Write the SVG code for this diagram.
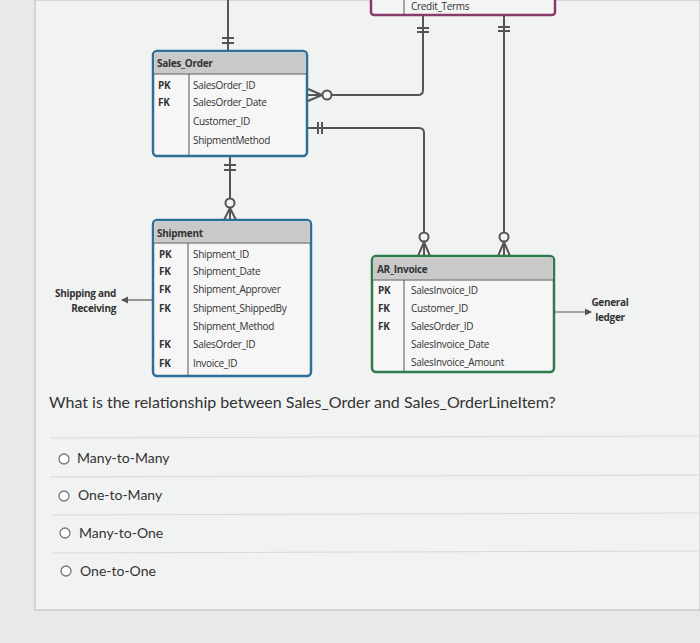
<svg xmlns="http://www.w3.org/2000/svg" width="700" height="643" viewBox="0 0 700 643">
<style>
.ln{stroke:#555;stroke-width:2;fill:none}
.t{font-family:"Open Sans","Liberation Sans",sans-serif;font-size:10px;fill:#333;letter-spacing:-0.3px}
.h{font-family:"Open Sans","Liberation Sans",sans-serif;font-size:10px;font-weight:bold;fill:#333;letter-spacing:-0.3px}
.q{font-family:Lato,"Liberation Sans",sans-serif;font-size:16px;fill:#333}
.o{font-family:Lato,"Liberation Sans",sans-serif;font-size:14px;fill:#333}
.sep{stroke:#d8d8d8;stroke-width:1}
.rad{fill:#fff;stroke:#777;stroke-width:1.3}
</style>
<defs><marker id="ar" markerWidth="6" markerHeight="6" refX="5" refY="3" orient="auto"><path d="M0,0 L6,3 L0,6 z" fill="#555"/></marker></defs>
<rect width="700" height="643" fill="#e8e9eb"/>
<rect x="35" y="0" width="665" height="610" fill="#f1f2f2" stroke="#bbb"/>
<g id="connectors">
<path class="ln" d="M228,0 V51 M222,38 H234 M222,43 H234"/>
<path class="ln" d="M423,15 V90 Q423,95 418,95 H331 M417,28 H429 M417,32 H429"/>
<circle cx="327" cy="95" r="4.5" fill="#f4f4f4" stroke="#555" stroke-width="2"/>
<path class="ln" d="M322,95 L308,89 M322,95 L308,101 M322,95 H308"/>
<path class="ln" d="M307,128 H419 Q424,128 424,133 V256 M318,122 V134 M322,122 V134"/>
<circle cx="424" cy="237" r="4.5" fill="#f4f4f4" stroke="#555" stroke-width="2"/>
<path class="ln" d="M424,242 L418,256 M424,242 L430,256"/>
<path class="ln" d="M504,15 V256 M498,27 H510 M498,31 H510"/>
<circle cx="504" cy="237" r="4.5" fill="#f4f4f4" stroke="#555" stroke-width="2"/>
<path class="ln" d="M504,242 L498,256 M504,242 L510,256"/>
<path class="ln" d="M230,156 V220 M224,165 H236 M224,170 H236"/>
<circle cx="230" cy="203" r="4.5" fill="#f4f4f4" stroke="#555" stroke-width="2"/>
<path class="ln" d="M230,208 L224,220 M230,208 L236,220"/>
<path d="M153,300 H122" stroke="#555" stroke-width="1.2" marker-end="url(#ar)"/>
<path d="M554,312 H591" stroke="#555" stroke-width="1.2" marker-end="url(#ar)"/>
</g>
<g id="credit_terms">
<rect x="371" y="-10" width="184" height="25" rx="3" fill="#f4f4f4" stroke="#8a3a6a" stroke-width="2.5"/>
<line x1="404" y1="-10" x2="404" y2="15" stroke="#555"/>
<text class="t" x="411" y="10" fill="#777">Credit_Terms</text>
</g>
<g id="sales_order">
<rect x="153" y="51" width="154" height="105" rx="4" fill="#f6f6f6" stroke="#2f6f95" stroke-width="2.5"/>
<rect x="154.5" y="52.5" width="151" height="21" fill="#c9c9c9"/>
<line x1="154" y1="74" x2="306" y2="74" stroke="#555"/>
<line x1="189" y1="74" x2="189" y2="155" stroke="#555"/>
<text class="h" x="157" y="67">Sales_Order</text>
<text class="h" x="158" y="89">PK</text><text class="h" x="158" y="106">FK</text>
<text class="t" x="193" y="89">SalesOrder_ID</text>
<text class="t" x="193" y="106">SalesOrder_Date</text>
<text class="t" x="193" y="125">Customer_ID</text>
<text class="t" x="193" y="144">ShipmentMethod</text>
</g>
<g id="shipment">
<rect x="153" y="220" width="158" height="156" rx="4" fill="#f6f6f6" stroke="#2f6f95" stroke-width="2.5"/>
<rect x="154.5" y="221.5" width="155" height="21" fill="#c9c9c9"/>
<line x1="154" y1="243" x2="310" y2="243" stroke="#555"/>
<line x1="188" y1="243" x2="188" y2="375" stroke="#555"/>
<text class="h" x="157" y="237">Shipment</text>
<text class="h" x="159" y="258">PK</text><text class="h" x="159" y="275">FK</text><text class="h" x="159" y="293">FK</text><text class="h" x="159" y="312">FK</text><text class="h" x="159" y="348">FK</text><text class="h" x="159" y="367">FK</text>
<text class="t" x="193" y="258">Shipment_ID</text>
<text class="t" x="193" y="275">Shipment_Date</text>
<text class="t" x="193" y="293">Shipment_Approver</text>
<text class="t" x="193" y="312">Shipment_ShippedBy</text>
<text class="t" x="193" y="330">Shipment_Method</text>
<text class="t" x="193" y="348">SalesOrder_ID</text>
<text class="t" x="193" y="367">Invoice_ID</text>
</g>
<g id="ar_invoice">
<rect x="372" y="256" width="182" height="116" rx="4" fill="#f6f6f6" stroke="#2f7a4a" stroke-width="2.5"/>
<rect x="373.5" y="257.5" width="179" height="22" fill="#c9c9c9"/>
<line x1="373" y1="280" x2="553" y2="280" stroke="#555"/>
<line x1="404" y1="280" x2="404" y2="371" stroke="#555"/>
<text class="h" x="377" y="273">AR_Invoice</text>
<text class="h" x="378" y="294">PK</text><text class="h" x="378" y="312">FK</text><text class="h" x="378" y="330">FK</text>
<text class="t" x="411" y="294">SalesInvoice_ID</text>
<text class="t" x="411" y="312">Customer_ID</text>
<text class="t" x="411" y="330">SalesOrder_ID</text>
<text class="t" x="411" y="348">SalesInvoice_Date</text>
<text class="t" x="411" y="366">SalesInvoice_Amount</text>
</g>
<g id="shipping_receiving">
<text class="h" x="116" y="297" text-anchor="end">Shipping and</text>
<text class="h" x="116" y="312" text-anchor="end">Receiving</text>
</g>
<g id="general_ledger">
<text class="h" x="610" y="306" text-anchor="middle">General</text>
<text class="h" x="610" y="321" text-anchor="middle">ledger</text>
</g>
<text class="q" x="49" y="408">What is the relationship between Sales_Order and Sales_OrderLineItem?</text>
<line class="sep" x1="50" y1="438" x2="700" y2="436"/>
<line class="sep" x1="50" y1="477" x2="700" y2="475"/>
<line class="sep" x1="52" y1="515" x2="700" y2="513"/>
<line class="sep" x1="53" y1="553" x2="700" y2="551"/>
<circle class="rad" cx="64" cy="459" r="5"/><text class="o" x="77" y="463">Many-to-Many</text>
<circle class="rad" cx="64" cy="496" r="5"/><text class="o" x="78" y="500">One-to-Many</text>
<circle class="rad" cx="65" cy="533" r="5"/><text class="o" x="79" y="538">Many-to-One</text>
<circle class="rad" cx="66" cy="571" r="5"/><text class="o" x="80" y="576">One-to-One</text>
</svg>
